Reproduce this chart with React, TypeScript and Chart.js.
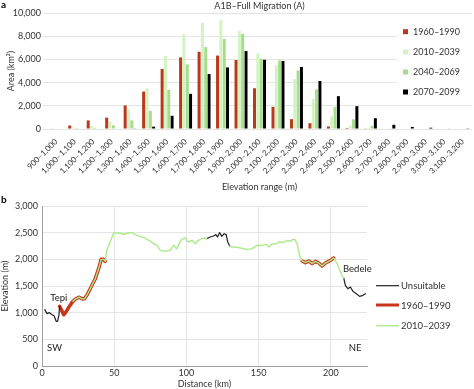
import React, { useEffect, useRef } from 'react';
import { Chart, registerables } from 'chart.js';

Chart.register(...registerables);

// ---------- Panel a data ----------
const elevationBands = [
  '900–1,000', '1,000–1,100', '1,100–1,200', '1,200–1,300', '1,300–1,400', '1,400–1,500',
  '1,500–1,600', '1,600–1,700', '1,700–1,800', '1,800–1,900', '1,900–2,000', '2,000–2,100',
  '2,100–2,200', '2,200–2,300', '2,300–2,400', '2,400–2,500', '2,500–2,600', '2,600–2,700',
  '2,700–2,800', '2,800–2,900', '2,900–3,000', '3,000–3,100', '3,100–3,200',
];
const area1960 = [50, 300, 740, 980, 2030, 3230, 5180, 6170, 6660, 6330, 5950, 3510, 1910, 850, 500, 220, 90, 30, 0, 0, 0, 0, 0];
const area2010 = [0, 20, 250, 650, 1700, 3500, 6290, 8180, 9160, 9380, 8460, 6520, 5500, 4300, 2600, 1100, 300, 80, 0, 0, 0, 0, 0];
const area2040 = [0, 10, 100, 330, 740, 1570, 3370, 5570, 7060, 7770, 8200, 6060, 5910, 5050, 3420, 1910, 830, 270, 30, 0, 0, 0, 0];
const area2070 = [0, 0, 0, 0, 30, 200, 1140, 3030, 4740, 5310, 6720, 5970, 5860, 5350, 4140, 2830, 1970, 930, 360, 180, 110, 50, 25];
const periodLabels = ['1960–1990', '2010–2039', '2040–2069', '2070–2099'];
const areaTicks = [0, 2000, 4000, 6000, 8000, 10000];

// ---------- Panel b data ----------
const distanceKm = [
  2, 3.4, 5.2, 6.8, 8.4, 9.8, 10.8, 11.7, 12.2, 13.5, 15, 16.5, 18.5, 20, 21.4, 23, 24.5, 25.7, 27, 28,
  29.5, 31.6, 33, 34.6, 36.9, 39.2, 41, 42.6, 43.7, 44.9, 47.2, 49.5, 53, 56.5, 60, 62.3, 65.7, 70.3, 74.9, 77,
  79.5, 81.8, 85.2, 88.7, 91, 93.3, 96.4, 99.1, 101.4, 103.7, 106, 108.3, 110.6, 112.9, 114, 116.5, 118.8, 120.4, 121.5, 122.9,
  124.5, 126.1, 127.5, 128.6, 130, 131.5, 133.8, 137.5, 142.1, 145.5, 149, 151.3, 155.5, 157.1, 159.4, 161.7, 164, 167, 169.7, 172,
  173.9, 175.1, 176.6, 178.3, 180.1, 182.4, 184.7, 187, 189.3, 191.6, 193.9, 196.2, 199.7, 202, 204.3, 206.1, 207.7, 208.9, 210, 211.7,
  213.5, 215.3, 217.6, 219.9, 222.2, 223.9,
];
const elevationM = [
  1057, 982, 1000, 964, 938, 838, 838, 950, 1120, 1050, 960, 1010, 1100, 1160, 1213, 1250, 1275, 1290, 1270, 1255,
  1265, 1350, 1430, 1513, 1638, 1825, 2000, 2000, 1963, 2170, 2325, 2494, 2494, 2470, 2494, 2500, 2450, 2406, 2344, 2300,
  2263, 2170, 2150, 2170, 2263, 2200, 2370, 2400, 2325, 2356, 2294, 2356, 2388, 2400, 2388, 2419, 2438, 2463, 2419, 2500,
  2431, 2481, 2463, 2325, 2244, 2231, 2231, 2213, 2181, 2200, 2263, 2260, 2281, 2231, 2294, 2285, 2325, 2315, 2356, 2340,
  2375, 2370, 2294, 2075, 1969, 1938, 1969, 1919, 1963, 1931, 1875, 1931, 1981, 2025, 1919, 1794, 1700, 1650, 1513, 1450,
  1481, 1400, 1356, 1306, 1325, 1356,
];
const unsuitableRanges = [[2, 12.2], [114, 130], [208.9, 224]];
const suitable1960Ranges = [[12.2, 43.7], [180.1, 202]];
const suitable2010Ranges = [[21.4, 114], [130, 208.9]];
const profileLegend = ['Unsuitable', '1960–1990', '2010–2039'];
const placeNames = [
  { text: 'Tepi', km: 5.7, m: 1270 },
  { text: 'SW', km: 3.5, m: 330 },
  { text: 'Bedele', km: 208.4, m: 1815 },
  { text: 'NE', km: 212.4, m: 340 },
];

const FONT = 'Lato, "Open Sans", sans-serif';
const RED = '#b8391b';
const LIGHT_GREEN = '#d3f3c0';
const MID_GREEN = '#a6dc8e';
const BLACK = '#000000';
const LINE_RED = '#c8351a';
const LINE_GREEN = '#acea8c';
const LINE_BLACK = '#222222';

const inRanges = (km: number, ranges: number[][]) => ranges.some(([a, b]) => km >= a && km <= b);
const fmt = (v: number) => Number(v).toLocaleString('en-US');

export default function App() {
  const aRef = useRef<HTMLCanvasElement>(null);
  const bRef = useRef<HTMLCanvasElement>(null);

  useEffect(() => {
    document.body.style.margin = '0';
    const barColors = [RED, LIGHT_GREEN, MID_GREEN, BLACK];
    const series = [area1960, area2010, area2040, area2070];

    const panelADecor = {
      id: 'panelADecor',
      beforeDatasetsDraw(chart: any) {
        const ctx = chart.ctx;
        ctx.save();
        ctx.fillStyle = '#ffffff';
        ctx.fillRect(397, 18, 77, 84);
        ctx.restore();
      },
      afterDraw(chart: any) {
        const ctx = chart.ctx;
        const area = chart.chartArea;
        ctx.save();
        ctx.fillStyle = '#000';
        ctx.font = `bold 10px ${FONT}`;
        ctx.textBaseline = 'middle';
        ctx.textAlign = 'left';
        ctx.fillText('a', 1, 5);
        ctx.fillStyle = '#333';
        ctx.font = `9px ${FONT}`;
        ctx.textAlign = 'center';
        ctx.fillText('A1B–Full Migration (A)', (area.left + area.right) / 2, 6);
        ctx.textAlign = 'left';
        const ys = [31.7, 52, 72, 92];
        periodLabels.forEach((lab, i) => {
          ctx.fillStyle = barColors[i];
          ctx.fillRect(403, ys[i] - 2.5, 5, 5);
          ctx.fillStyle = '#333';
          ctx.fillText(lab, 413, ys[i] + 0.5);
        });
        ctx.restore();
      },
    };

    const chartA = new Chart(aRef.current as HTMLCanvasElement, {
      type: 'bar',
      data: {
        labels: elevationBands,
        datasets: series.map((d, i) => ({
          label: periodLabels[i],
          data: d,
          backgroundColor: barColors[i],
          borderWidth: 0,
          barPercentage: 0.9,
          categoryPercentage: 0.72,
        })),
      },
      options: {
        responsive: false,
        animation: false,
        events: [],
        layout: { padding: { top: 13, right: 2, bottom: 0, left: 0 } },
        plugins: { legend: { display: false }, tooltip: { enabled: false }, title: { display: false } },
        scales: {
          x: {
            grid: { display: false },
            border: { display: false },
            ticks: {
              autoSkip: false,
              minRotation: 45,
              maxRotation: 45,
              padding: 0,
              color: '#333',
              font: { family: FONT, size: 8 },
            },
            title: {
              display: true,
              text: 'Elevation range (m)',
              color: '#333',
              font: { family: FONT, size: 9 },
              padding: { top: 0, bottom: 0 },
            },
            afterFit: (s: any) => { s.height = 63; },
          },
          y: {
            min: 0,
            max: 10000,
            afterBuildTicks: (s: any) => { s.ticks = areaTicks.map((v) => ({ value: v })); },
            grid: { color: '#e4e4e4', tickLength: 4, tickColor: '#e4e4e4' },
            border: { display: false },
            ticks: {
              padding: 2,
              color: '#333',
              font: { family: FONT, size: 9 },
              callback: (v: any) => fmt(v),
            },
            title: {
              display: true,
              text: 'Area (km²)',
              color: '#333',
              font: { family: FONT, size: 9 },
              padding: { top: 6, bottom: 0 },
            },
            afterFit: (s: any) => { s.width = 47; },
          },
        },
      },
      plugins: [panelADecor],
    } as any);

    const lineStyles = [
      { color: LINE_BLACK, width: 1.2 },
      { color: LINE_RED, width: 3.5 },
      { color: LINE_GREEN, width: 1.4 },
    ];

    const panelBDecor = {
      id: 'panelBDecor',
      afterDraw(chart: any) {
        const ctx = chart.ctx;
        const xs = chart.scales.x;
        const ys = chart.scales.y;
        ctx.save();
        ctx.fillStyle = '#000';
        ctx.font = `bold 10px ${FONT}`;
        ctx.textBaseline = 'middle';
        ctx.textAlign = 'left';
        ctx.fillText('b', 1, 5);
        ctx.fillStyle = '#222';
        ctx.font = `9.5px ${FONT}`;
        placeNames.forEach((p) => {
          ctx.fillText(p.text, xs.getPixelForValue(p.km), ys.getPixelForValue(p.m));
        });
        const legendY = [90.7, 110, 130.7];
        profileLegend.forEach((lab, i) => {
          ctx.strokeStyle = lineStyles[i].color;
          ctx.lineWidth = i === 1 ? 3 : lineStyles[i].width;
          ctx.beginPath();
          ctx.moveTo(376, legendY[i]);
          ctx.lineTo(399, legendY[i]);
          ctx.stroke();
          ctx.fillStyle = '#333';
          ctx.font = `9.5px ${FONT}`;
          ctx.fillText(lab, 401, legendY[i] + 0.5);
        });
        ctx.restore();
      },
    };

    const mk = (ranges: number[][]) =>
      distanceKm.map((km, i) => ({ x: km, y: inRanges(km, ranges) ? elevationM[i] : null }));

    const chartB = new Chart(bRef.current as HTMLCanvasElement, {
      type: 'line',
      data: {
        datasets: [
          { label: profileLegend[0], data: mk(unsuitableRanges), borderColor: LINE_BLACK, borderWidth: 1.2, order: 1 },
          { label: profileLegend[1], data: mk(suitable1960Ranges), borderColor: LINE_RED, borderWidth: 3.5, order: 2 },
          { label: profileLegend[2], data: mk(suitable2010Ranges), borderColor: LINE_GREEN, borderWidth: 1.4, order: 0 },
        ].map((d) => ({ ...d, pointRadius: 0, tension: 0, spanGaps: false, fill: false, borderJoinStyle: 'round', borderCapStyle: 'round' })),
      },
      options: {
        responsive: false,
        animation: false,
        events: [],
        layout: { padding: { top: 11, right: 107, bottom: 0, left: 0 } },
        plugins: { legend: { display: false }, tooltip: { enabled: false } },
        scales: {
          x: {
            type: 'linear',
            min: 0,
            max: 225,
            afterBuildTicks: (s: any) => { s.ticks = [0, 50, 100, 150, 200].map((v) => ({ value: v })); },
            grid: { color: '#e4e4e4', drawTicks: false },
            border: { display: true, color: '#a0a0a0', width: 1 },
            ticks: { padding: 2, color: '#333', font: { family: FONT, size: 9 } },
            title: {
              display: true,
              text: 'Distance (km)',
              color: '#333',
              font: { family: FONT, size: 9 },
              padding: { top: 0, bottom: 0 },
            },
            afterFit: (s: any) => { s.height = 23; },
          },
          y: {
            min: 0,
            max: 3000,
            ticks: {
              stepSize: 500,
              padding: 4,
              color: '#333',
              font: { family: FONT, size: 9 },
              callback: (v: any) => fmt(v),
            },
            grid: { color: '#e4e4e4', drawTicks: false },
            border: { display: true, color: '#a0a0a0', width: 1 },
            title: {
              display: true,
              text: 'Elevation (m)',
              color: '#333',
              font: { family: FONT, size: 9 },
              padding: { top: 0, bottom: 0 },
            },
            afterFit: (s: any) => { s.width = 42; },
          },
        },
      },
      plugins: [panelBDecor],
    } as any);

    return () => {
      chartA.destroy();
      chartB.destroy();
    };
  }, []);

  return (
    <div style={{ position: 'absolute', left: 0, top: 0, width: 474, height: 389, background: '#fff', fontFamily: FONT }}>
      <canvas ref={aRef} width={474} height={192} style={{ position: 'absolute', left: 0, top: 0, width: 474, height: 192 }} />
      <canvas ref={bRef} width={474} height={194} style={{ position: 'absolute', left: 0, top: 195, width: 474, height: 194 }} />
    </div>
  );
}
